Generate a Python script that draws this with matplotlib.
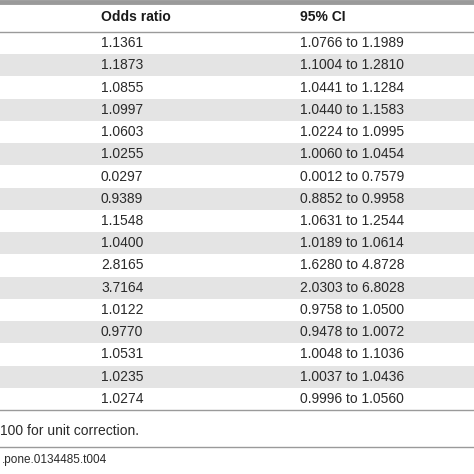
import matplotlib
matplotlib.use("Agg")
import matplotlib.pyplot as plt
from matplotlib.patches import Rectangle

headers = ["Odds ratio", "95% CI"]
odds = ["1.1361","1.1873","1.0855","1.0997","1.0603","1.0255","0.0297","0.9389","1.1548","1.0400","2.8165","3.7164","1.0122","0.9770","1.0531","1.0235","1.0274"]
ci = ["1.0766 to 1.1989","1.1004 to 1.2810","1.0441 to 1.1284","1.0440 to 1.1583","1.0224 to 1.0995","1.0060 to 1.0454","0.0012 to 0.7579","0.8852 to 0.9958","1.0631 to 1.2544","1.0189 to 1.0614","1.6280 to 4.8728","2.0303 to 6.8028","0.9758 to 1.0500","0.9478 to 1.0072","1.0048 to 1.1036","1.0037 to 1.0436","0.9996 to 1.0560"]
footnote = "100 for unit correction."
doi = ".pone.0134485.t004"

plt.rcParams['font.family'] = ['Liberation Sans', 'DejaVu Sans']
fig = plt.figure(figsize=(4.74, 4.74), dpi=100)
ax = fig.add_axes([0, 0, 1, 1])
ax.set_xlim(0, 474); ax.set_ylim(474, 0); ax.axis('off')

fs = 10
top = 32; n = len(odds); h = (410 - top) / n
ax.plot([0, 474], [2, 2], color='#9a9a9a', lw=3.5)
ax.text(101, 17, headers[0], fontsize=fs, weight='bold', va='center', color='#1a1a1a')
ax.text(300, 17, headers[1], fontsize=fs, weight='bold', va='center', color='#1a1a1a')
ax.plot([0, 474], [top, top], color='#9a9a9a', lw=1)
for i in range(n):
    y0 = top + i * h
    if i % 2 == 1:
        ax.add_patch(Rectangle((0, y0), 474, h, color='#e4e4e4', lw=0))
    ax.text(101, y0 + h / 2, odds[i], fontsize=fs, va='center', color='#2a2a2a')
    ax.text(300, y0 + h / 2, ci[i], fontsize=fs, va='center', color='#2a2a2a')
ax.plot([0, 474], [410, 410], color='#9a9a9a', lw=1)
ax.text(0, 431, footnote, fontsize=fs, va='center', color='#2a2a2a')
ax.plot([0, 474], [447, 447], color='#9a9a9a', lw=1)
ax.text(2, 460, doi, fontsize=8.5, va='center', color='#2a2a2a')
fig.savefig("out.png", dpi=100, facecolor='white')
